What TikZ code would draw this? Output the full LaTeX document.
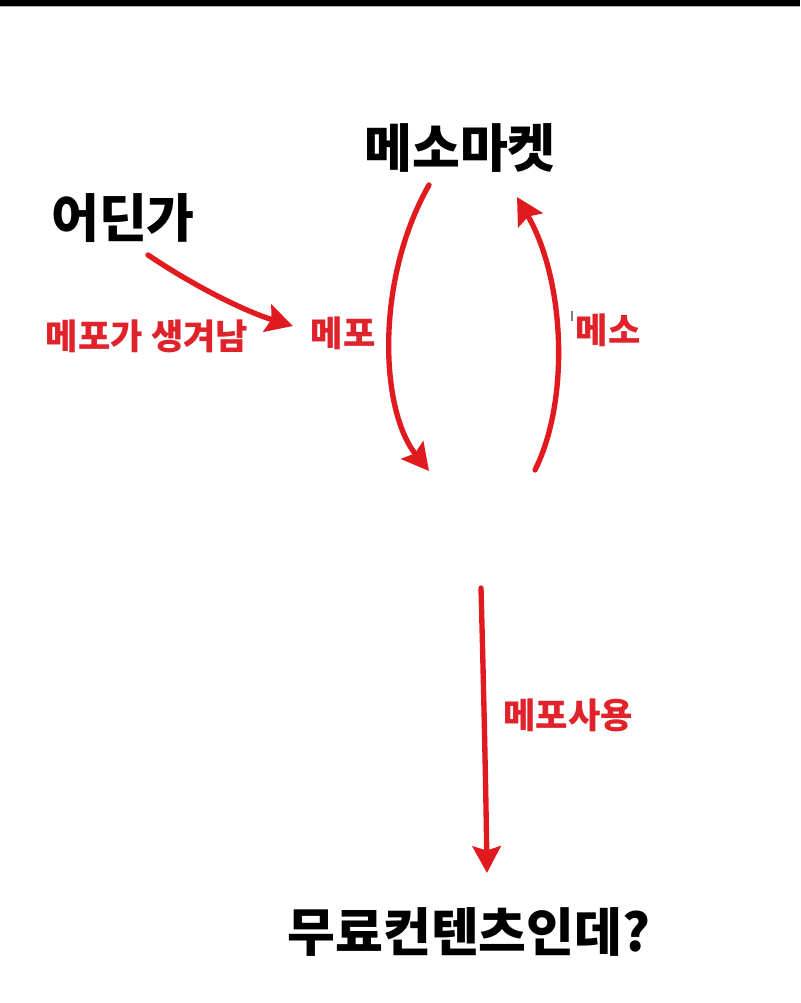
\documentclass[tikz,border=0pt]{standalone}
\usepackage{fontspec}
\newfontfamily\kr{Noto Sans CJK KR}
\usetikzlibrary{arrows.meta,positioning}
\definecolor{memo}{HTML}{E0222A}
\definecolor{memoline}{HTML}{E01A1E}

\begin{document}
\begin{tikzpicture}
	[x=0.025cm,y=-0.025cm,
	big node/.style={font=\kr\bfseries\fontsize{37}{44}\selectfont,text=black,inner sep=0pt},
	red node/.style={font=\kr\bfseries\fontsize{25}{30}\selectfont,text=memo,inner sep=0pt},
	arr/.style={draw=memoline,line width=3.8pt,line cap=round,-{Stealth[length=19pt,width=20pt,inset=3pt]}}]
	\useasboundingbox[fill=white] (0,0) rectangle (800,1003);
	\fill[black] (0,0) rectangle (800,6);
	\draw[gray!60,line width=0.6pt] (0,6.5) -- (800,6.5);
	
	\node [big node] (market) at (460,148) {메소마켓};
	\node [big node] (where) at (123,218) {어딘가};
	\node [big node] (free) at (469,932) {무료컨텐츠인데?};
	
	\node [red node] (born) at (147,336) {메포가 생겨남};
	\node [red node] (mepo) at (343,333) {메포};
	\node [red node] (meso) at (608,330) {메소};
	\node [red node] (use) at (568,715) {메포사용};
	
	\coordinate (w1) at (148,255);
	\coordinate (w2) at (293,326);
	\coordinate (l1) at (429,185);
	\coordinate (l2) at (429,471);
	\coordinate (r1) at (535,470);
	\coordinate (r2) at (517,197);
	\coordinate (d1) at (481,588);
	\coordinate (d2) at (487,873);
	
	\draw[arr] (w1) .. controls (200,290) and (250,313) .. (w2);
	\draw[arr] (l1) .. controls (375,280) and (380,410) .. (l2);
	\draw[arr] (r1) .. controls (570,400) and (565,280) .. (r2);
	\draw[arr] (d1) .. controls (484,700) and (486,800) .. (d2);
	
	\draw[gray,line width=0.8pt] (572,311) -- (572,321);
	
\end{tikzpicture}
\end{document}
